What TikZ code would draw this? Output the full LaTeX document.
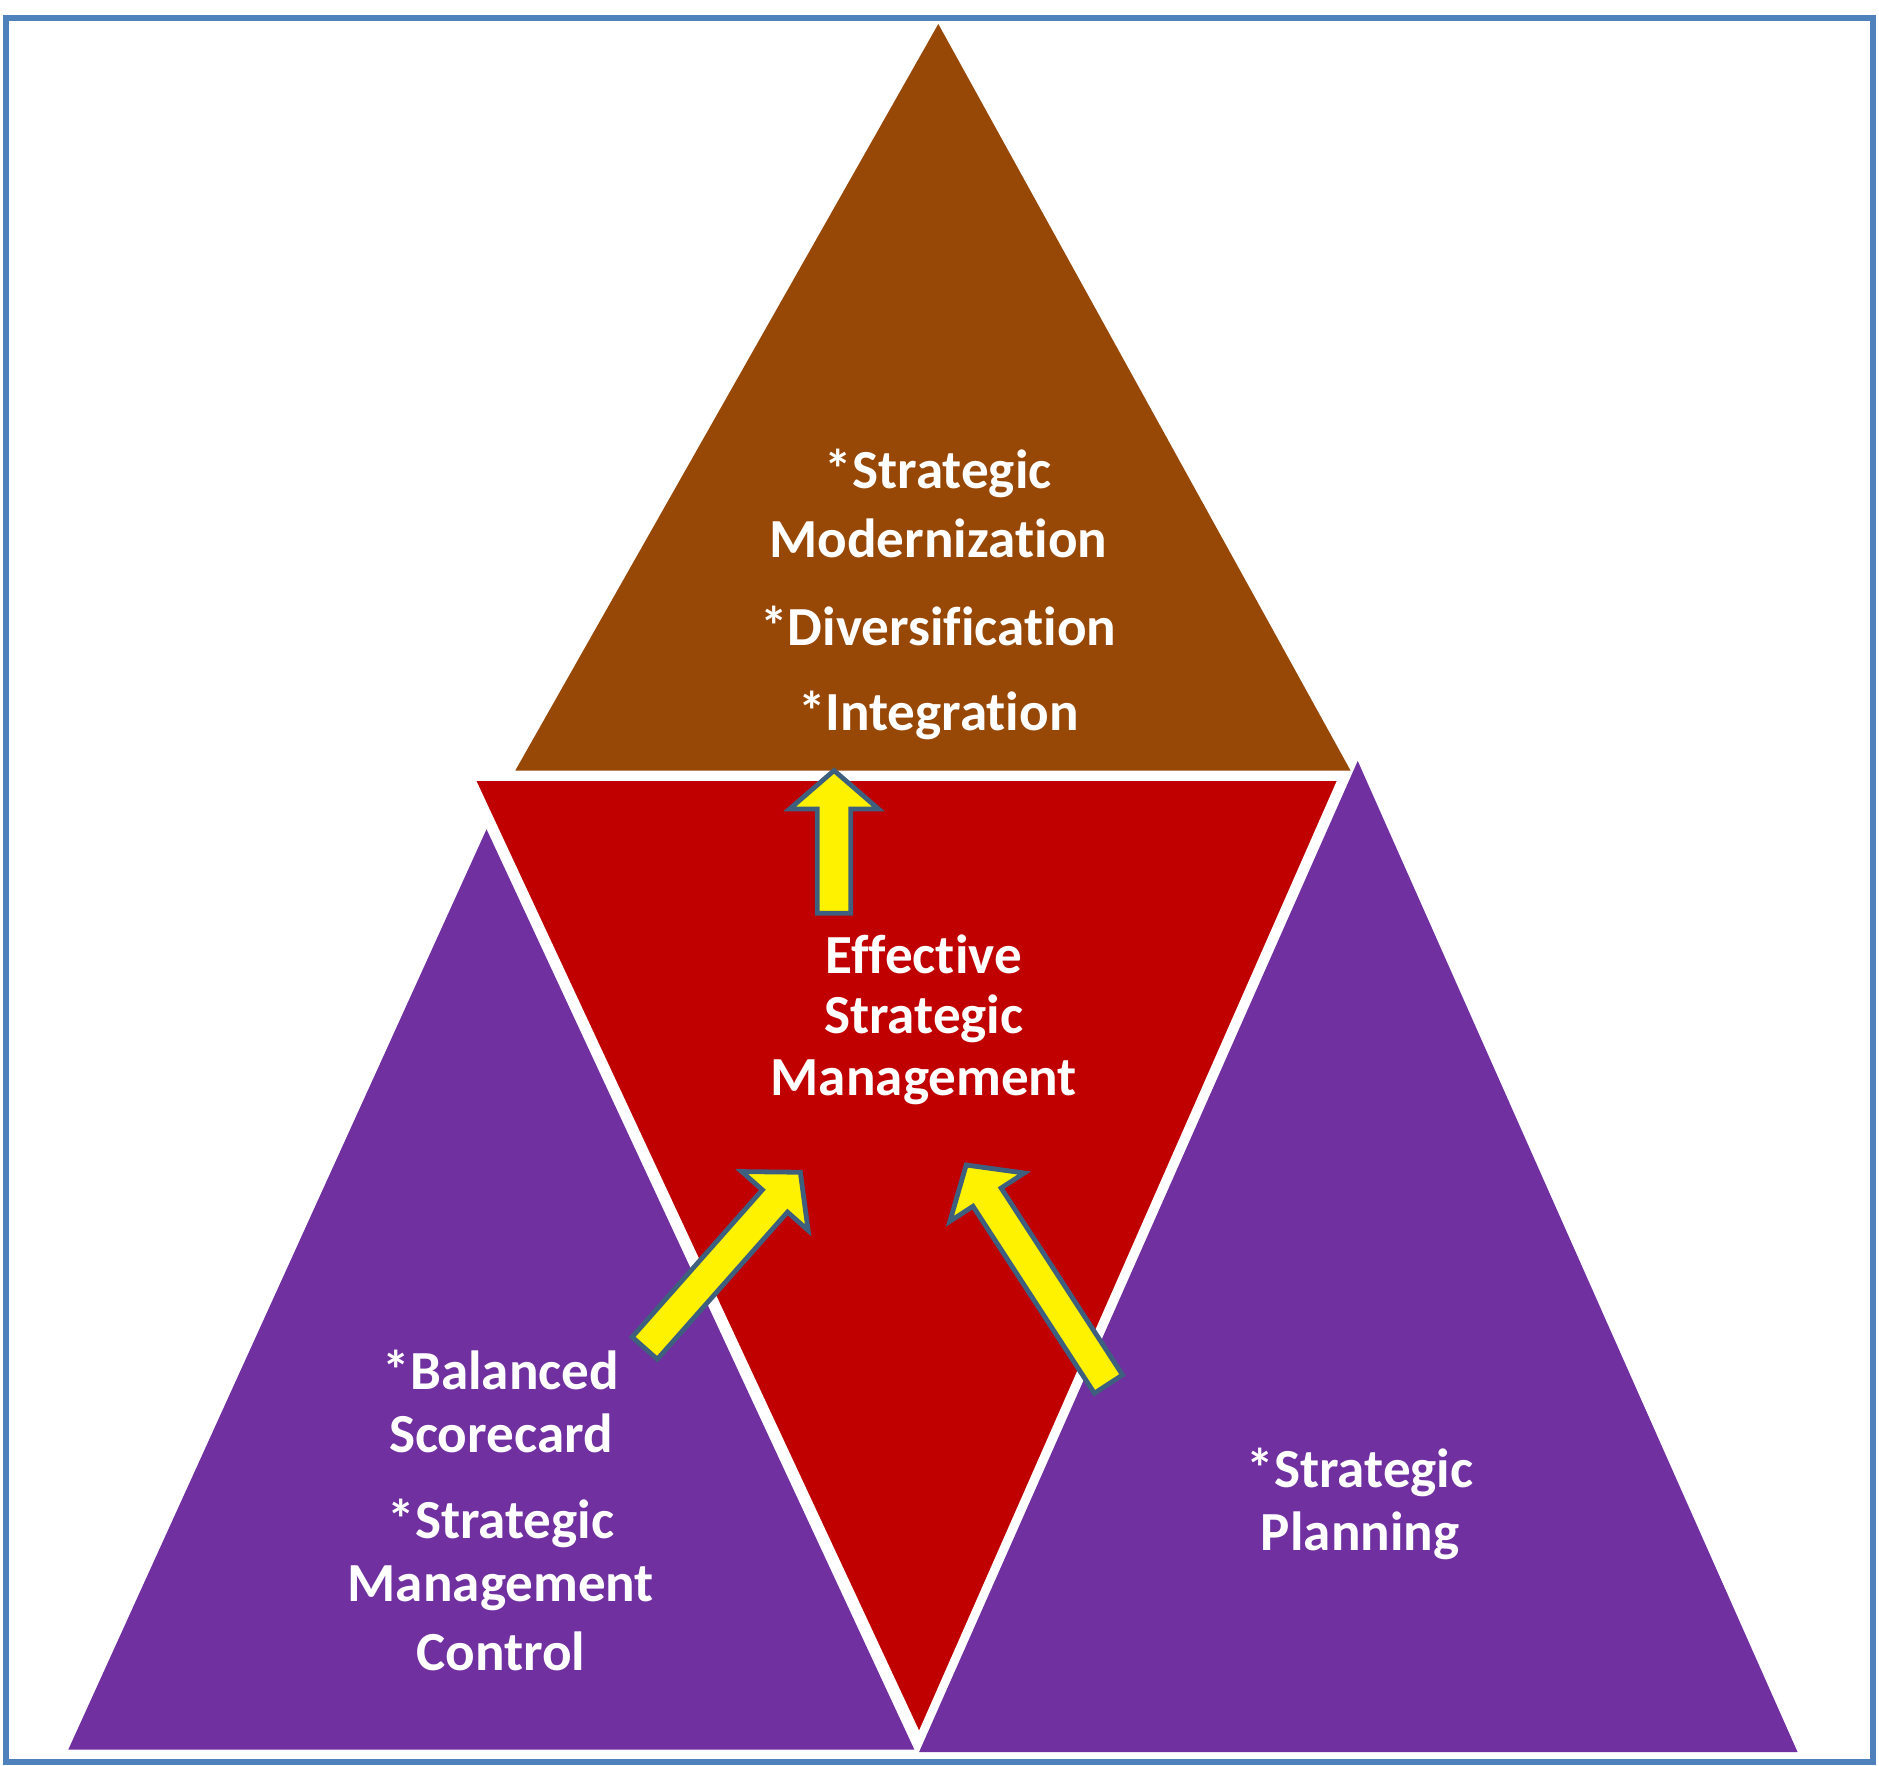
\documentclass[tikz,border=0pt]{standalone}
\usepackage{fontspec}
\setmainfont{Carlito}[Ligatures={NoCommon,NoRare,NoContextual}]
\definecolor{brownT}{HTML}{974706}
\definecolor{redT}{HTML}{C00000}
\definecolor{purpT}{HTML}{7030A0}
\definecolor{frameB}{HTML}{4F81BD}
\definecolor{arrB}{HTML}{3F5F7F}
\tikzset{lbl/.style={text=white,font=\fontsize{23}{27}\selectfont\bfseries,inner sep=0pt,anchor=center},
 tri/.style={draw=white,line width=1.6pt},
 yarr/.style={fill=yellow,draw=arrB,line width=2pt,line join=miter}}
\newcommand{\yarrow}[4]{\begin{scope}[shift={(#1,#2)},rotate=#3,x=0.5pt,y=0.5pt]
\draw[yarr] (0,-14)--(#4-32,-14)--(#4-32,-37)--(#4,0)--(#4-32,37)--(#4-32,14)--(0,14)--cycle;
\end{scope}}
\begin{document}
\begin{tikzpicture}[x=0.5pt,y=-0.5pt]
\useasboundingbox (0,0) rectangle (1568,1473);
\fill[white] (0,0) rectangle (1568,1473);
\draw[frameB,line width=2.5pt] (5,15) rectangle (1563,1470);
\fill[brownT] (783,20)--(1127,643)--(430,643)--cycle;
\fill[purpT] (406,692)--(763,1460)--(57,1460)--cycle;
\fill[purpT] (1133,635)--(1500,1462)--(767,1462)--cycle;
\filldraw[fill=redT,tri] (395,650)--(1118,650)--(767,1448)--cycle;
\yarrow{696}{762}{90}{119}
\yarrow{538}{1125}{48.5}{196}
\yarrow{925}{1155}{123}{218}
\node[lbl] (t1) at (783,395) {*Strategic};
\node[lbl] (t2) at (783,449) {Modernization};
\node[lbl] (t3) at (783,522) {*Diversification};
\node[lbl] (t4) at (783,597) {*Integration};
\node[lbl] (m1) at (771,796) {Effective};
\node[lbl] (m2) at (771,850) {Strategic};
\node[lbl] (m3) at (771,903) {Management};
\node[lbl] (l1) at (418,1143) {*Balanced};
\node[lbl] (l2) at (418,1196) {Scorecard};
\node[lbl] (l3) at (418,1271) {*Strategic};
\node[lbl] (l4) at (418,1325) {Management};
\node[lbl] (l5) at (418,1378) {Control};
\node[lbl] (r1) at (1135,1229) {*Strategic};
\node[lbl] (r2) at (1135,1282) {Planning};
\end{tikzpicture}
\end{document}
